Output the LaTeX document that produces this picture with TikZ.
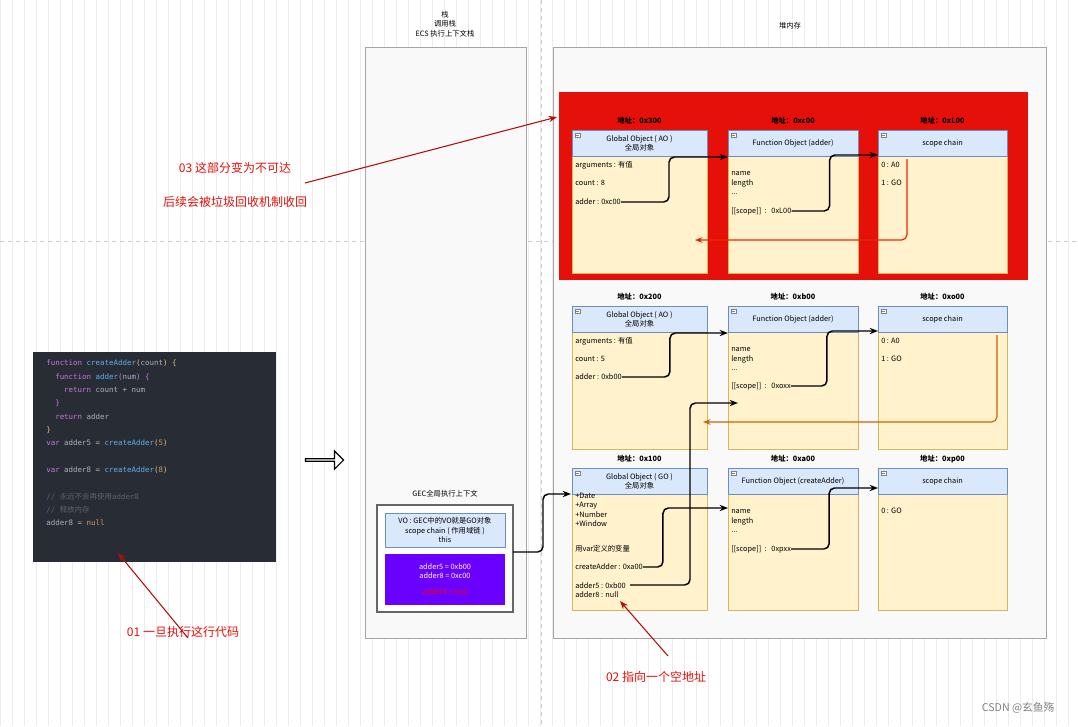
\documentclass[tikz,border=0pt]{standalone}
\usepackage{fontspec}
\setmainfont{Noto Sans CJK SC}
\newfontfamily\codefont{DejaVu Sans Mono}
\usetikzlibrary{arrows.meta, positioning, calc, shapes.arrows}
\definecolor{hdrblue}{HTML}{DAE8FC}
\definecolor{hdrline}{HTML}{6C8EBF}
\definecolor{bodyyel}{HTML}{FFF2CC}
\definecolor{bodyline}{HTML}{D6B656}
\definecolor{gcred}{HTML}{E5100A}
\definecolor{scopeor}{HTML}{CC6600}
\definecolor{codebg}{HTML}{282C34}
\definecolor{ckw}{HTML}{C678DD}
\definecolor{cfn}{HTML}{61AFEF}
\definecolor{cbr}{HTML}{E5C07B}
\definecolor{ctx}{HTML}{ABB2BF}
\definecolor{cnum}{HTML}{D19A66}
\definecolor{ccm}{HTML}{5C6370}
\definecolor{vopurple}{HTML}{6A00FF}
\newcommand{\kw}[1]{\textcolor{ckw}{#1}}
\newcommand{\fn}[1]{\textcolor{cfn}{#1}}
\newcommand{\br}[1]{\textcolor{cbr}{#1}}
\newcommand{\nm}[1]{\textcolor{cnum}{#1}}

\begin{document}
\begin{tikzpicture}[
    x=0.75pt, y=-0.75pt,
    tiny/.style={font=\fontsize{5.5}{7}\selectfont, inner sep=0pt},
    line/.style={tiny, anchor=west},
    hdr/.style={draw=hdrline, fill=hdrblue, tiny, align=center},
    body/.style={draw=bodyline, fill=bodyyel},
    addr/.style={tiny, font=\fontsize{5.5}{7}\selectfont\bfseries},
    link/.style={-{Stealth[length=2.2mm]}, line width=1.1pt, rounded corners=4pt},
    back/.style={-{Stealth[length=2mm]}, line width=0.9pt, rounded corners=4pt},
    note/.style={font=\fontsize{9}{11}\selectfont, text=gcred, inner sep=0pt},
    redarrow/.style={-{Stealth[length=2.2mm]}, draw=gcred!80!black, line width=0.8pt},
    panel/.style={draw=gray!70, fill=gray!5}
]
    \useasboundingbox (0,0) rectangle (1078,726);
    % grid paper
    \draw[gray!15, line width=0.3pt] (0,0) grid[step=12] (1078,726);
    \draw[gray!40, dashed, line width=0.4pt] (541,0) -- (541,726);
    \draw[gray!40, dashed, line width=0.4pt] (0,241) -- (1078,241);

    % stack and heap panels
    \node[tiny, align=center] (stacktitle) at (445,24) {栈\\调用栈\\ECS 执行上下文栈};
    \node[tiny] (heaptitle) at (790,26) {堆内存};
    \draw[panel] (365,47) rectangle (526,638);
    \draw[panel] (553,47) rectangle (1046,638);
    \fill[gcred] (559,92) rectangle (1028,280);

    % memory objects: column x, top y
    \foreach \cx/\cy/\addr/\title [count=\i] in {
        572/130/0x300/{Global Object ( AO )\\全局对象},
        728/130/0xc00/{Function Object (adder)},
        878/130/0xL00/{scope chain},
        572/306/0x200/{Global Object ( AO )\\全局对象},
        728/306/0xb00/{Function Object (adder)},
        878/306/0xo00/{scope chain},
        572/468/0x100/{Global Object ( GO )\\全局对象},
        728/468/0xa00/{Function Object (createAdder)},
        878/468/0xp00/{scope chain}} {
        \pgfmathsetmacro{\cw}{\cx==572 ? 135 : (\cx==728 ? 130 : 129)}
        \pgfmathsetmacro{\ch}{\cy==468 ? 142 : 143}
        \draw[body] (\cx,\cy+26) rectangle ++(\cw,\ch-26);
        \draw[hdrline, fill=hdrblue] (\cx,\cy) rectangle ++(\cw,26);
        \node[tiny, align=center] (obj\i) at (\cx+\cw/2,\cy+13) {\title};
        \draw[gray, fill=white, line width=0.3pt] (\cx+3,\cy+3) rectangle ++(5,4);
        \draw[gray, line width=0.3pt] (\cx+4,\cy+5) -- ++(3,0);
        \coordinate (box\i) at (\cx,\cy+13);
        \node[addr] (addr\i) at (\cx+\cw/2,\cy-9) {地址：\addr};
    }

    % top row (unreachable)
    \node[line] (argsC) at (575,165) {arguments : 有值};
    \node[line] (countC) at (575,183) {count : 8};
    \node[line] (adderC) at (575,202) {adder : 0xc00};
    \node[line, align=left] (fnC) at (731,183) {name\\length\\...};
    \node[line] (scopeC) at (731,211) {[[scope]]\ \ :\ \ \ 0xL00};
    \node[line] (ao1C) at (881,165) {0 : A0};
    \node[line] (go1C) at (881,183) {1 : GO};
    \coordinate (backC) at (695,240);
    \draw[link] (adderC.east) -- ++(48,0) |- ($(box2)+(0,14)$);
    \draw[link] (scopeC.east) -- ++(38,0) |- ($(box3)+(0,12)$);
    \draw[back, draw=gcred!80!orange] (907,159) |- (backC);

    % middle row
    \node[line] (argsB) at (575,341) {arguments : 有值};
    \node[line] (countB) at (575,359) {count : 5};
    \node[line] (adderB) at (575,377) {adder : 0xb00};
    \node[line, align=left] (fnB) at (731,359) {name\\length\\...};
    \node[line] (scopeB) at (731,386) {[[scope]]\ \ :\ \ \ 0xoxx};
    \node[line] (ao1B) at (881,341) {0 : A0};
    \node[line] (go1B) at (881,359) {1 : GO};
    \coordinate (backB) at (703,422);
    \draw[link] (adderB.east) -- ++(48,0) |- ($(box5)+(0,14)$);
    \draw[link] (scopeB.east) -- ++(36,0) |- ($(box6)+(0,12)$);
    \draw[back, draw=scopeor] (997,335) |- (backB);

    % bottom row (global)
    \node[line, align=left] (builtins) at (575,510) {+Date\\+Array\\+Number\\+Window};
    \node[line] (varlbl) at (575,549) {用var定义的变量};
    \node[line] (createA) at (575,567) {createAdder : 0xa00};
    \node[line, align=left] (addersA) at (575,590) {adder5 : 0xb00\\adder8 : null};
    \coordinate (adder5end) at (630,585);
    \node[line, align=left] (fnA) at (731,521) {name\\length\\...};
    \node[line] (scopeA) at (731,549) {[[scope]]\ \ :\ \ \ 0xpxx};
    \node[line] (go0A) at (881,511) {0 : GO};
    \draw[link] (createA.east) -- ++(20,0) |- ($(box8)+(0,27)$);
    \draw[link] (adder5end) -- (690,585) |- (738,403);
    \draw[link] (scopeA.east) -- ++(38,0) |- ($(box9)+(0,7)$);

    % global execution context
    \node[tiny] (geclbl) at (445,494) {GEC全局执行上下文};
    \draw[gray!80!black, fill=white, line width=0.8pt] (377,505) rectangle (513,612);
    \node[hdr, minimum width=120*0.75pt, minimum height=34*0.75pt] (vo) at (445,530)
        {VO : GEC中的VO就是GO对象\\scope chain ( 作用域链 )\\this};
    \node[tiny, fill=vopurple, text=white, align=center, minimum width=120*0.75pt, minimum height=51*0.75pt] (vars) at (445,579)
        {adder5 = 0xb00\\adder8 = 0xc00\\[5pt]\textcolor{red}{adder8 = null}};
    \coordinate (gecout) at (513,552);
    \draw[link] (gecout) -- (543,552) |- ($(box7)+(-1,13)$);

    % source code
    \fill[codebg] (33,352) rectangle (276,562);
    \node[anchor=north west, align=left, text=ctx, inner sep=0pt, font=\codefont\fontsize{5.6}{10}\selectfont] (code) at (46,360) {%
        \kw{function} \fn{createAdder}\br{(}count\br{)} \br{\{}\\
        \ \ \kw{function} \fn{adder}\kw{(}num\kw{)} \kw{\{}\\
        \ \ \ \ \kw{return} count + num\\
        \ \ \kw{\}}\\
        \ \ \kw{return} adder\\
        \br{\}}\\
        \kw{var} adder5 = \fn{createAdder}\br{(}\nm{5}\br{)}\\[10pt]
        \kw{var} adder8 = \fn{createAdder}\br{(}\nm{8}\br{)}\\[10pt]
        \textcolor{ccm}{// {\rmfamily 永远不会再使用}adder8}\\
        \textcolor{ccm}{// {\rmfamily 释放内存}}\\
        adder8 = \nm{null}};
    \node[single arrow, draw, line width=0.9pt, fill=white, minimum height=38*0.75pt, minimum width=18*0.75pt, single arrow head extend=3pt, inner sep=0pt] (goesto) at (324,460) {};

    % notes
    \node[note] (note3) at (235,168) {03 这部分变为不可达};
    \node[note] (note3b) at (235,202) {后续会被垃圾回收机制收回};
    \node[note] (note1) at (183,632) {01 一旦执行这行代码};
    \node[note] (note2) at (656,677) {02 指向一个空地址};
    \coordinate (nullmark) at (118,553);
    \coordinate (nullgo) at (620,601);
    \coordinate (redzone) at (557,117);
    \draw[redarrow] (305,183) -- (redzone);
    \draw[redarrow] (188,638) -- (nullmark);
    \draw[redarrow] (668,656) -- (nullgo);
    \node[font=\fontsize{8}{10}\selectfont, text=gray] (mark) at (1018,708) {CSDN @玄鱼殇};
\end{tikzpicture}
\end{document}
